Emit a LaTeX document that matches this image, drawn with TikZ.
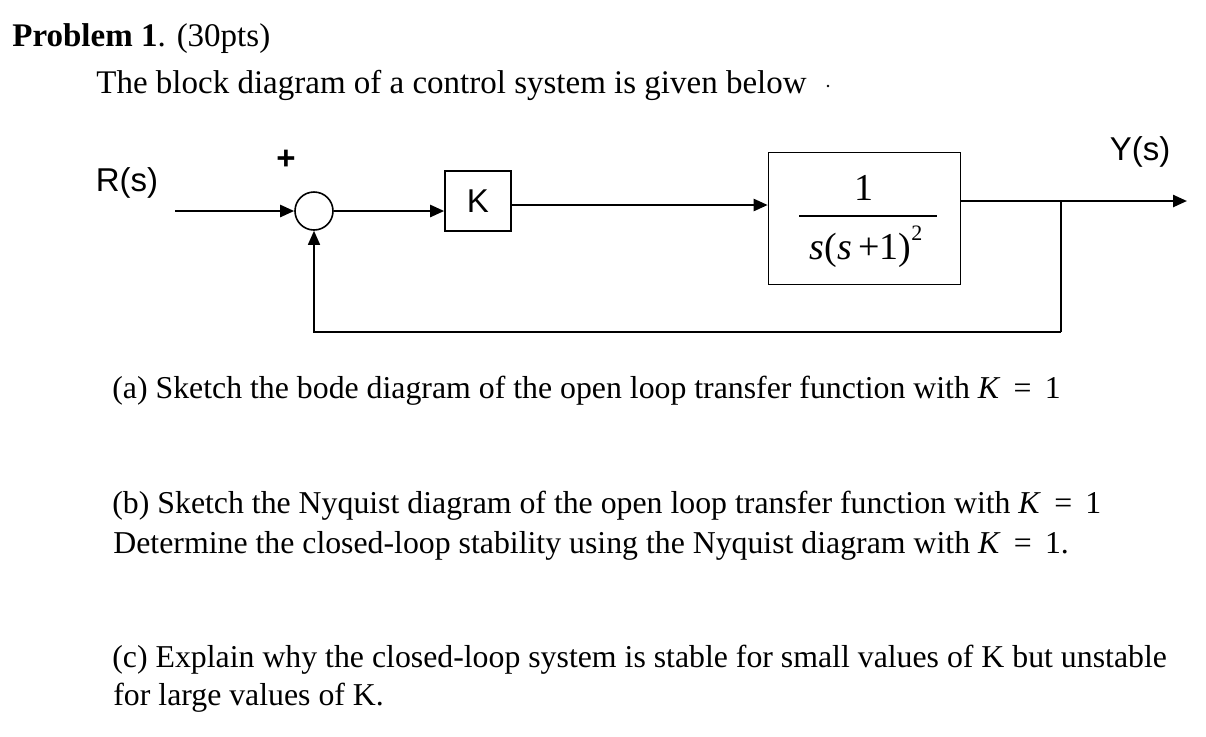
\documentclass[tikz,border=0pt]{standalone}
\usepackage{fontspec}
\setmainfont{Liberation Serif}
\newfontfamily\arialf{Liberation Sans}
\usetikzlibrary{arrows.meta}
\begin{document}
\begin{tikzpicture}[x=0.5pt,y=-0.5pt,
  txt/.style={anchor=base west,inner sep=0pt,font=\fontsize{16.5}{18}\selectfont},
  qtxt/.style={anchor=base west,inner sep=0pt,font=\fontsize{15.9}{18}\selectfont},
  lab/.style={inner sep=0pt,font=\arialf\fontsize{16.5}{18}\selectfont},
  sig/.style={line width=1.2pt,-{Triangle[length=7pt,width=6pt]}},
  ln/.style={line width=1.2pt}]
\useasboundingbox (0,0) rectangle (1206,736);
\node[txt] (t0) at (12,46) {\textbf{Problem 1}. (30pts)};
\node[txt] (t1) at (96,93) {The block diagram of a control system is given below};
\fill (828,86) circle (1.3);
\node[lab] (R) at (127,183) {R(s)};
\node[lab] (Y) at (1140,152) {Y(s)};
\node[lab] (plus) at (286,160) {\textbf{+}};
\coordinate (in) at (175,211);
\node[draw,circle,minimum size=38*0.5pt,inner sep=0pt,line width=0.8pt] (sum) at (314,211) {};
\node[draw,line width=0.8pt,minimum width=33pt,minimum height=30pt,inner sep=0pt,lab] (K) at (478,201) {K};
\node[draw,line width=0.8pt,minimum width=96pt,minimum height=66pt,inner sep=0pt] (G) at (864.5,218.5) {};
\node[inner sep=0pt,font=\fontsize{19}{20}\selectfont] (num) at (864,188) {1};
\draw[line width=0.8pt] (799,216) -- (937,216);
\node[inner sep=0pt,font=\fontsize{19}{20}\selectfont] (den) at (866,247) {\textit{s}(\textit{s}\,+1)\raisebox{1.1ex}{\fontsize{11}{12}\selectfont 2}};
\coordinate (out) at (1187,201);
\coordinate (br) at (1061,201);
\coordinate (fb) at (1061,332);
\coordinate (fb2) at (314,332);
\draw[sig] (in) -- (sum.west);
\draw[sig] (sum.east) -- (K.west |- sum.east);
\draw[sig] (K.east |- 0,205) -- (G.west |- 0,205);
\draw[sig] (G.east |- out) -- (out);
\draw[ln] (br) -- (fb);
\draw[sig,line width=0.8pt] (fb) -- (fb2) -- (sum.south);
\node[qtxt] (a) at (112,398) {(a) Sketch the bode diagram of the open loop transfer function with \textit{K} \,=\, 1};
\node[qtxt] (b1) at (112,513) {(b) Sketch the Nyquist diagram of the open loop transfer function with \textit{K} \,=\, 1};
\node[qtxt] (b2) at (113,553) {Determine the closed-loop stability using the Nyquist diagram with \textit{K} \,=\, 1.};
\node[qtxt] (c1) at (112,667) {(c) Explain why the closed-loop system is stable for small values of K but unstable};
\node[qtxt] (c2) at (113,705) {for large values of K.};
\end{tikzpicture}
\end{document}
